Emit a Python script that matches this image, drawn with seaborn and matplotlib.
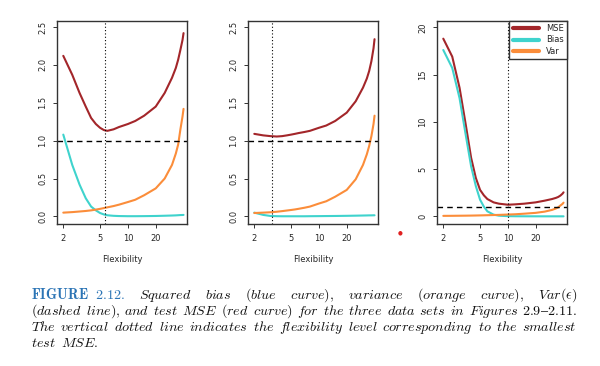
import pandas as pd
import numpy as np
import matplotlib
matplotlib.use('Agg')
import matplotlib.pyplot as plt
import seaborn as sns

# flexibility grid (log scale), same for all three panels
flex = [2, 2.5, 3, 3.5, 4, 4.5, 5, 5.5, 6, 7, 8, 10, 12, 15, 20, 25, 30, 33, 35, 37, 39, 40]

# panel 1
mse1 = [2.12, 1.87, 1.63, 1.45, 1.30, 1.22, 1.17, 1.14, 1.13, 1.15, 1.18, 1.22, 1.26, 1.33, 1.45, 1.63, 1.83, 1.96, 2.07, 2.20, 2.33, 2.42]
bias1 = [1.08, 0.68, 0.42, 0.24, 0.13, 0.08, 0.045, 0.026, 0.015, 0.008, 0.005, 0.003, 0.003, 0.004, 0.006, 0.009, 0.012, 0.014, 0.016, 0.018, 0.019, 0.02]
var1 = [0.05, 0.057, 0.065, 0.072, 0.08, 0.09, 0.10, 0.11, 0.12, 0.137, 0.155, 0.19, 0.22, 0.28, 0.37, 0.50, 0.68, 0.83, 0.95, 1.15, 1.32, 1.42]
best1 = 5.7

# panel 2
mse2 = [1.09, 1.07, 1.06, 1.055, 1.06, 1.07, 1.08, 1.09, 1.10, 1.115, 1.13, 1.17, 1.20, 1.26, 1.37, 1.52, 1.70, 1.82, 1.92, 2.05, 2.22, 2.34]
bias2 = [0.05, 0.02, 0.006, 0.003, 0.002, 0.002, 0.002, 0.002, 0.002, 0.002, 0.003, 0.004, 0.005, 0.006, 0.008, 0.01, 0.012, 0.013, 0.014, 0.014, 0.015, 0.015]
var2 = [0.045, 0.05, 0.055, 0.062, 0.07, 0.078, 0.085, 0.092, 0.10, 0.115, 0.13, 0.17, 0.20, 0.26, 0.35, 0.49, 0.68, 0.82, 0.93, 1.06, 1.22, 1.33]
best2 = 3.1

# panel 3
mse3 = [18.8, 16.9, 13.6, 9.7, 6.2, 4.06, 2.8, 2.22, 1.83, 1.48, 1.34, 1.23, 1.27, 1.34, 1.48, 1.66, 1.83, 1.95, 2.05, 2.2, 2.4, 2.54]
bias3 = [17.6, 15.7, 12.5, 8.6, 5.3, 3.2, 1.76, 1.02, 0.53, 0.18, 0.07, 0.02, 0.01, 0.005, 0.003, 0.002, 0.002, 0.002, 0.002, 0.002, 0.002, 0.002]
var3 = [0.05, 0.057, 0.065, 0.072, 0.08, 0.09, 0.10, 0.11, 0.12, 0.137, 0.155, 0.19, 0.22, 0.28, 0.37, 0.50, 0.68, 0.83, 0.95, 1.15, 1.32, 1.45]
best3 = 10

xticks = [2, 5, 10, 20]
yticks12 = [0.0, 0.5, 1.0, 1.5, 2.0, 2.5]
ytick_labels12 = ['0.0', '0.5', '1.0', '1.5', '2.0', '2.5']
yticks3 = [0, 5, 10, 15, 20]

colors = {'MSE': '#a3262a', 'Bias': '#3fd3cd', 'Var': '#fb8d3a'}

caption_head = 'FIGURE 2.12.'
caption = [
    'Squared bias (blue curve), variance (orange curve), Var(\u03f5)',
    '(dashed line), and test MSE (red curve) for the three data sets in Figures 2.9\u20132.11.',
    'The vertical dotted line indicates the flexibility level corresponding to the smallest',
    'test MSE.',
]

# long table for seaborn
rows = []
for p, (m, b, v) in enumerate([(mse1, bias1, var1), (mse2, bias2, var2), (mse3, bias3, var3)]):
    for name, vals in [('MSE', m), ('Bias', b), ('Var', v)]:
        for xx, yy in zip(flex, vals):
            rows.append({'panel': p, 'Flexibility': xx, 'value': yy, 'curve': name})
df = pd.DataFrame(rows)

sns.set_style('ticks')
plt.rcParams['font.family'] = ['DejaVu Sans']
plt.rcParams['mathtext.fontset'] = 'cm'

fig = plt.figure(figsize=(6, 3.66), dpi=100)
lefts = [57 / 600, 248 / 600, 437 / 600]
w = 130 / 600
h = 203 / 366
bottom = (366 - 224) / 366
bests = [best1, best2, best3]

for p in range(3):
    ax = fig.add_axes([lefts[p], bottom, w, h])
    sub = df[df.panel == p]
    sns.lineplot(data=sub, x='Flexibility', y='value', hue='curve',
                 hue_order=['MSE', 'Bias', 'Var'], palette=colors,
                 linewidth=1.5, legend=(p == 2), ax=ax)
    ax.set_xscale('log')
    ax.set_xlim(1.71, 43.6)
    ax.set_xticks(xticks)
    ax.set_xticklabels([str(t) for t in xticks])
    ax.minorticks_off()
    if p < 2:
        ax.set_ylim(-0.10, 2.58)
        ax.set_yticks(yticks12)
        ax.set_yticklabels(ytick_labels12)
    else:
        ax.set_ylim(-0.81, 20.67)
        ax.set_yticks(yticks3)
        ax.set_yticklabels([str(t) for t in yticks3])
    ax.axhline(1.0, ls=(0, (4, 3)), color='black', lw=1.0)
    ax.axvline(bests[p], ls=(0, (1, 2)), color='black', lw=0.8)
    ax.set_ylabel('')
    ax.set_xlabel('Flexibility', fontsize=6, labelpad=9)
    ax.tick_params(length=3, width=0.7, labelsize=6, pad=4, color='#333333')
    ax.tick_params(axis='y', labelrotation=90)
    for lab in ax.get_yticklabels():
        lab.set_va('center')
    for s in ax.spines.values():
        s.set_visible(True)
        s.set_linewidth(1.0)
        s.set_color('#333333')
    if p == 2:
        leg = ax.legend(loc='upper right', borderaxespad=0, fontsize=6,
                        fancybox=False, framealpha=1, edgecolor='#333333',
                        handlelength=3.2, labelspacing=0.25, borderpad=0.4)
        leg.get_frame().set_linewidth(1.0)
        for ln in leg.get_lines():
            ln.set_linewidth(3)

# stray red dot from the scan
fig.text(400 / 600, 1 - 233 / 366, '\u25cf', color='#e02020', fontsize=4,
         ha='center', va='center')

# caption, justified between x0 and x1, computer modern via mathtext
x0, x1 = 31 / 600, 577 / 600
ys = [295, 311, 327, 343]
r = fig.canvas.get_renderer()


def mt(word):
    return '$' + word.replace('\u03f5', r'\epsilon') + '$'


def measure(words, fs):
    tot = 0
    for word, kw in words:
        t = fig.text(0, 0, word, fontsize=fs, **kw)
        tot += t.get_window_extent(r).width
        t.remove()
    return tot


def put_line(y, words, fs, justify=True):
    txts = []
    for word, kw in words:
        txts.append(fig.text(0, y, word, fontsize=fs, va='baseline', **kw))
    widths = [t.get_window_extent(r).width / fig.bbox.width for t in txts]
    if justify and len(txts) > 1:
        gap = (x1 - x0 - sum(widths)) / (len(txts) - 1)
    else:
        gap = 0.33 * fs * fig.dpi / 72 / fig.bbox.width
    x = x0
    for t, wd in zip(txts, widths):
        t.set_x(x)
        x += wd + gap


lines = []
for i, line in enumerate(caption):
    words = [(mt(wd), {'color': '#111111'}) for wd in line.split()]
    if i == 0:
        words = [(r'$\mathbf{FIGURE\ \ 2.12.}$', {'color': '#2b74b5'})] + words
    lines.append(words)

# pick the font size so the third line fills the width with normal spaces
fs0 = 10
nat = measure(lines[2], fs0)
space = 0.33 * fs0 * fig.dpi / 72
fs = fs0 * (x1 - x0) * fig.bbox.width / (nat + space * (len(lines[2]) - 1))

for i, words in enumerate(lines):
    y = 1 - (ys[i] + 4) / 366
    put_line(y, words, fs, justify=(i < 3))

fig.savefig('out.png', dpi=100)
